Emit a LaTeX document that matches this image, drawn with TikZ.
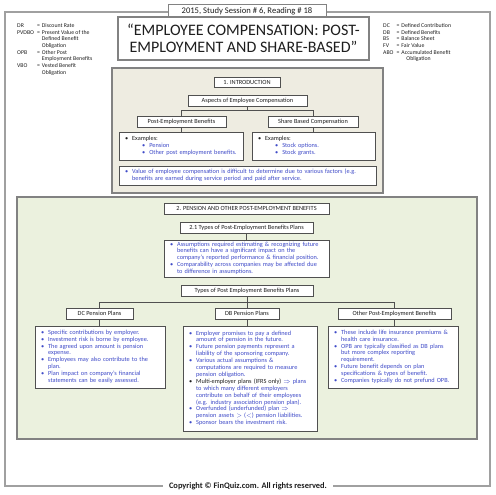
\documentclass[tikz,border=0pt]{standalone}
\usepackage{fontspec}
\setmainfont{Carlito}
\definecolor{blu}{RGB}{62,74,200}
\definecolor{introfill}{RGB}{238,236,225}
\definecolor{secfill}{RGB}{235,241,222}
\definecolor{framecol}{RGB}{160,160,160}
\definecolor{bord}{RGB}{80,80,80}
\definecolor{contbord}{RGB}{130,130,130}
\definecolor{txt}{RGB}{30,30,30}
\newcommand\bt[1]{\noindent\begin{tabular}{@{}l@{\hspace{4pt}}l@{}}#1\end{tabular}}
\newcommand\boxat[7]{\node[#6, minimum width={(#4-#2)*1pt}, minimum height={(#5-#3)*1pt}] (#1) at ({(#2+#4)/2},{(#3+#5)/2}) {#7};}
\newcommand\cboxat[6]{\pgfmathsetlengthmacro\cbw{(#4-#2-12)*1pt}%
  \node[cb, text width=\cbw, minimum width={(#4-#2)*1pt}, minimum height={(#5-#3)*1pt}] (#1) at ({(#2+#4)/2},{(#3+#5)/2}) {#6};}
\tikzset{
  hd/.style={draw=bord, fill=white, line width=0.9pt, inner sep=0pt, align=center, text=txt},
  cb/.style={draw=bord, fill=white, line width=0.9pt, inner xsep=6pt, inner ysep=0pt, align=left, text=blu},
  cont/.style={draw=contbord, line width=1.2pt, inner sep=0pt},
  wire/.style={draw=bord, line width=0.8pt},
  legend/.style={inner sep=0pt, anchor=north west, text=txt, font=\fontsize{5.8}{6.7}\selectfont},
}
\begin{document}
\begin{tikzpicture}[x=1pt,y=-1pt,font=\fontsize{6.3}{6.9}\selectfont]
\useasboundingbox (0,0) rectangle (495,495);
% outer frame
\boxat{frame}{5}{12}{490}{486}{draw=framecol, line width=1.6pt, inner sep=0pt}{}
\boxat{session}{168}{5}{326}{18}{draw=contbord, fill=white, line width=1pt, inner sep=0pt, text=txt, font=\fontsize{8.6}{10}\selectfont}{2015, Study Session \# 6, Reading \# 18}
\node[fill=white, inner xsep=6pt, inner ysep=1pt, text=txt, font=\fontsize{8.4}{10}\selectfont\bfseries] (footer) at (248,486) {Copyright © FinQuiz.com. All rights reserved.};
% title
\boxat{title}{118}{17}{369}{60}{draw=contbord, fill=white, line width=1.1pt, inner sep=0pt, align=center, text=txt, font=\fontsize{16}{17}\selectfont}{“EMPLOYEE COMPENSATION: POST-\\EMPLOYMENT AND SHARE-BASED”}
% legends
\node[legend] (legL) at (17,22.5) {\begin{tabular}{@{}l@{\hspace{3pt}}l@{\hspace{2pt}}l@{}}
DR & = & Discount Rate\\
PVDBO & = & Present Value of the\\
 & & Defined Benefit\\
 & & Obligation\\
OPB & = & Other Post\\
 & & Employment Benefits\\
VBO & = & Vested Benefit\\
 & & Obligation
\end{tabular}};
\node[legend] (legR) at (383,22.5) {\begin{tabular}{@{}l@{\hspace{3pt}}l@{\hspace{2pt}}l@{}}
DC & = & Defined Contribution\\
DB & = & Defined Benefits\\
BS & = & Balance Sheet\\
FV & = & Fair Value\\
ABO & = & Accumulated Benefit\\
 & & \hspace{5pt}Obligation
\end{tabular}};
% section 1
\boxat{intro}{112}{68}{383}{193}{cont, fill=introfill}{}
\boxat{introh}{214}{77}{280}{87}{hd}{1. INTRODUCTION}
\boxat{asp}{188}{95}{307}{106}{hd}{Aspects of Employee Compensation}
\boxat{peb}{137}{116}{226}{127}{hd}{Post-Employment Benefits}
\boxat{sbc}{268}{116}{358}{127}{hd}{Share Based Compensation}
\cboxat{ex1}{119}{132}{243}{160}{\bt{\textcolor{txt}{\textbullet} & \textcolor{txt}{Examples:}\\
 & \hspace{10pt}\textbullet\hspace{4pt}Pension\\
 & \hspace{10pt}\textbullet\hspace{4pt}Other post employment benefits.}}
\cboxat{ex2}{252}{132}{375}{160}{\bt{\textcolor{txt}{\textbullet} & \textcolor{txt}{Examples:}\\
 & \hspace{10pt}\textbullet\hspace{4pt}Stock options.\\
 & \hspace{10pt}\textbullet\hspace{4pt}Stock grants.}}
\cboxat{val}{119}{166}{376}{185}{\bt{\textbullet & Value of employee compensation is difficult to determine due to various factors (e.g.\\
 & benefits are earned during service period and paid after service.}}
\draw[wire] (asp.south) -- ++(0,4) -| (peb.north);
\draw[wire] (asp.south) -- ++(0,4) -| (sbc.north);
\draw[wire] (peb.south) -- (peb.south |- ex1.north);
\draw[wire] (sbc.south) -- (sbc.south |- ex2.north);
% section 2
\boxat{sec}{17}{197}{477}{439}{cont, fill=secfill}{}
\boxat{pen}{164}{203}{329}{214}{hd}{2. PENSION AND OTHER POST-EMPLOYMENT BENEFITS}
\boxat{t21}{180}{222}{313}{233}{hd}{2.1 Types of Post-Employment Benefits Plans}
\cboxat{asm}{164}{240}{329}{277}{\bt{\textbullet & Assumptions required estimating \& recognizing future\\
 & benefits can have a significant impact on the\\
 & company's reported performance \& financial position.\\
\textbullet & Comparability across companies may be affected due\\
 & to difference in assumptions.}}
\boxat{tpeb}{181}{285}{313}{296}{hd}{Types of Post Employment Benefits Plans}
\boxat{dch}{66}{308}{133}{319}{hd}{DC Pension Plans}
\boxat{dbh}{215}{308}{279}{319}{hd}{DB Pension Plans}
\boxat{oph}{338}{308}{451}{319}{hd}{Other Post-Employment Benefits}
\cboxat{dcb}{35}{326}{165}{388}{\bt{\textbullet & Specific contributions by employer.\\
\textbullet & Investment risk is borne by employee.\\
\textbullet & The agreed upon amount is pension\\
 & expense.\\
\textbullet & Employees may also contribute to the\\
 & plan.\\
\textbullet & Plan impact on company's financial\\
 & statements can be easily assessed.}}
\cboxat{dbb}{183}{326}{317}{431}{\bt{\textbullet & Employer promises to pay a defined\\
 & amount of pension in the future.\\
\textbullet & Future pension payments represent a\\
 & liability of the sponsoring company.\\
\textbullet & Various actual assumptions \&\\
 & computations are required to measure\\
 & pension obligation.\\
\textcolor{txt}{\textbullet} & \textcolor{txt}{Multi-employer plans (IFRS only)} $\Rightarrow$ plans\\
 & to which many different employers\\
 & contribute on behalf of their employees\\
 & (e.g. industry association pension plan).\\
\textbullet & Overfunded (underfunded) plan $\Rightarrow$\\
 & pension assets $>$ ($<$) pension liabilities.\\
\textbullet & Sponsor bears the investment risk.}}
\cboxat{opb}{328}{326}{458}{388}{\bt{\textbullet & These include life insurance premiums \&\\
 & health care insurance.\\
\textbullet & OPB are typically classified as DB plans\\
 & but more complex reporting\\
 & requirement.\\
\textbullet & Future benefit depends on plan\\
 & specifications \& types of benefit.\\
\textbullet & Companies typically do not prefund OPB.}}
\draw[wire] (t21.south) -- (t21.south |- asm.north);
\draw[wire] (tpeb.south) -- (tpeb.south |- dbh.north);
\draw[wire] (tpeb.south) -- ++(0,6) -| (dch.north);
\draw[wire] (tpeb.south) -- ++(0,6) -| (oph.north);
\draw[wire] (dch.south) -- (dch.south |- dcb.north);
\draw[wire] (dbh.south) -- (dbh.south |- dbb.north);
\draw[wire] (oph.south) -- (oph.south |- opb.north);
\end{tikzpicture}
\end{document}
